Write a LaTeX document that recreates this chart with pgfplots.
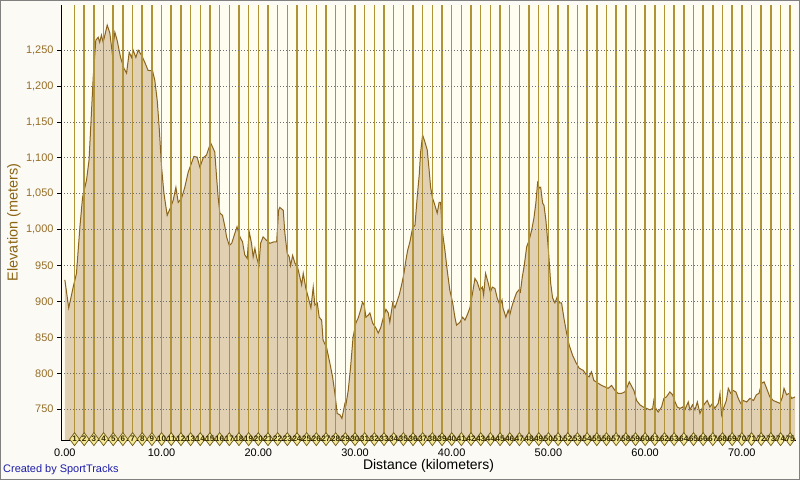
\documentclass[border=0pt]{standalone}
\usepackage{fontspec}
\setmainfont{Liberation Sans}
\usepackage{pgfplots}
\pgfplotsset{compat=1.18}
\usepackage{pgfplotstable}
\definecolor{plotbg}{RGB}{255,252,240}
\definecolor{outerbg}{RGB}{251,250,245}
\definecolor{fillc}{RGB}{225,209,178}
\definecolor{linec}{RGB}{139,101,29}
\definecolor{gold}{RGB}{176,146,56}
\definecolor{gridgray}{RGB}{110,110,110}
\definecolor{ytickc}{RGB}{150,110,40}
\definecolor{ylabc}{RGB}{140,100,20}
\definecolor{credblue}{RGB}{30,30,170}
\definecolor{mkfill}{RGB}{244,232,150}
\definecolor{mkdraw}{RGB}{110,90,20}
\definecolor{mktext}{RGB}{50,40,0}
\pgfplotstableread{
x y
0 930
0.4 891
0.86 920
1.2 939
1.55 1003
1.83 1045
2.24 1069
2.5 1097
2.76 1166
2.93 1212
3.2 1264
3.45 1268
3.6 1261
3.78 1271
3.96 1261
4.38 1285
4.65 1274
4.9 1246
5.17 1275
5.4 1264
5.76 1240
6.1 1225
6.38 1218
6.65 1247
6.9 1240
7.06 1250
7.34 1240
7.58 1250
7.93 1243
8.27 1233
8.6 1222
9.07 1221
9.3 1208
9.55 1180
9.75 1143
10 1087
10.24 1051
10.58 1020
10.93 1031
11.2 1041
11.48 1059
11.72 1038
12.07 1044
12.4 1059
12.75 1080
13.1 1093
13.34 1102
13.68 1101
13.96 1087
14.3 1100
14.65 1104
15.07 1121
15.34 1113
15.5 1108
15.69 1073
15.85 1045
16.03 1023
16.3 1020
16.55 1004
16.72 990
17 978
17.25 981
17.58 995
17.8 1004
18.1 990
18.37 983
18.6 965
18.85 960
19.06 997
19.3 981
19.47 962
19.65 974
19.82 962
20.06 950
20.24 981
20.5 990
20.86 985
21.2 981
21.6 983
21.9 983
22.1 1027
22.23 1031
22.58 1027
22.75 995
22.99 967
23.2 962
23.34 950
23.55 964
23.8 953
24.02 950
24.3 934
24.48 923
24.65 939
24.92 918
25.16 906
25.44 891
25.68 920
25.85 895
26.1 898
26.3 878
26.55 874
26.7 846
27.06 836
27.4 814
27.68 795
27.92 772
28.16 744
28.44 742
28.65 737
28.96 758
29.06 756
29.3 776
29.54 808
29.8 850
30.09 870
30.33 877
30.58 888
30.78 899
30.95 895
31.13 878
31.37 881
31.54 884
31.82 870
32.16 863
32.4 856
32.65 863
32.92 877
33.2 889
33.44 884
33.6 871
33.9 898
34.13 891
34.3 898
34.57 909
34.82 923
35.06 939
35.26 957
35.44 971
35.68 983
35.95 1002
36.2 1006
36.43 1045
36.64 1076
36.78 1107
36.99 1132
37.23 1122
37.47 1111
37.64 1087
37.82 1059
38.02 1044
38.26 1034
38.5 1023
38.7 1038
38.85 1038
39.02 999
39.3 971
39.53 944
39.8 916
40.1 898
40.33 878
40.5 867
40.85 871
41.13 878
41.37 874
41.6 881
41.88 891
42.16 912
42.4 932
42.64 927
42.9 916
43.17 920
43.3 909
43.5 939
43.75 927
44.0 913
44.2 920
44.47 918
44.7 905
44.98 895
45.2 902
45.3 891
45.6 878
45.84 888
46.0 881
46.2 892
46.43 902
46.7 912
46.94 916
47.1 913
47.3 934
47.5 950
47.75 976
48.0 985
48.26 999
48.5 1016
48.7 1037
48.88 1065
49.05 1058
49.2 1059
49.4 1037
49.54 1034
49.74 1013
49.92 985
50.05 962
50.23 926
50.43 905
50.67 898
50.9 906
51.12 898
51.36 898
51.6 877
51.88 856
52.15 839
52.5 825
52.84 815
53.18 807
53.6 804
53.95 797
54.2 795
54.45 802
54.7 790
55.15 786
55.5 783
55.84 781
56.18 779
56.53 783
56.88 776
57.2 772
57.57 772
57.9 774
58.15 781
58.36 788
58.6 782
58.84 776
59.12 762
59.46 756
59.8 753
60.15 751
60.5 749
60.78 751
60.9 762
61.1 751
61.35 746
61.7 753
61.94 765
62.2 767
62.56 774
62.84 770
63.1 760
63.32 753
63.6 751
63.88 753
64.1 749
64.46 760
64.63 749
64.9 756
65.15 749
65.4 760
65.67 744
65.95 753
66.18 758
66.42 762
66.7 753
66.97 758
67.2 751
67.56 758
67.74 772
67.9 742
68.15 753
68.4 762
68.6 779
68.84 772
69.1 776
69.38 774
69.63 765
69.88 758
70.15 762
70.5 760
70.84 765
71.2 762
71.5 770
71.77 772
72.05 786
72.3 788
72.56 779
72.9 767
73.25 762
73.6 760
73.94 758
74.2 767
74.36 779
74.63 770
74.9 772
75.15 765
75.5 767
}\elev
\pgfplotsset{commonbox/.style={
  at={(61bp,40bp)}, anchor=south west,
  scale only axis, width=735bp, height=435bp,
  xmin=-0.4, xmax=75.6, ymin=707, ymax=1313}}
\begin{document}
\begin{tikzpicture}
\useasboundingbox (0,0) rectangle (800bp,480bp);
\fill[outerbg] (0,0) rectangle (800bp,480bp);
\begin{axis}[
  commonbox,
  axis on top,
  axis background/.style={fill=plotbg},
  axis x line*=bottom, axis y line*=left, axis line style={black,-,line width=0.8bp},
  xtick={0,10,...,70}, minor xtick={1,...,75},
  ytick={750,800,...,1250},
  xminorgrids, ymajorgrids,
  minor x grid style={gold, line width=1.5bp},
  major y grid style={gridgray, dash pattern=on 1bp off 2bp, line width=0.8bp},
  tick align=outside, major tick length=4bp, minor tick length=0pt,
  xtick style={draw=none}, ytick style={black, line width=0.8bp},
  scaled ticks=false,
  /pgf/number format/assume math mode=true,
  xticklabel style={font=\fontsize{11}{13}\selectfont, text=black, yshift=-1bp, /pgf/number format/.cd, fixed, fixed zerofill, precision=2},
  yticklabel style={font=\fontsize{11}{13}\selectfont, text=ytickc, /pgf/number format/.cd, 1000 sep={,}},
  xlabel={Distance (kilometers)}, ylabel={Elevation (meters)},
  every axis x label/.style={at={(rel axis cs:0.5,0)}, yshift=-26bp, anchor=center, font=\fontsize{14}{16}\selectfont},
  every axis y label/.style={at={(rel axis cs:0,0.5)}, xshift=-47bp, rotate=90, anchor=center, font=\fontsize{14.5}{16}\selectfont, text=ylabc},
]
\addplot[fill=fillc, draw=none] table {\elev} \closedcycle;
\addplot[linec, line width=1bp] table {\elev};
\end{axis}
\begin{axis}[
  commonbox, hide axis, clip=false,
]
\addplot[only marks, mark=diamond*, mark size=6.5bp,
  mark options={fill=mkfill, draw=mkdraw, line width=0.7bp},
  nodes near coords, point meta=explicit symbolic,
  every node near coord/.append style={anchor=center, inner sep=0pt, font=\fontsize{8}{8}\selectfont\bfseries, text=mktext}]
coordinates {
(1,708.2) [1] (2,708.2) [2] (3,708.2) [3] (4,708.2) [4] (5,708.2) [5] (6,708.2) [6] (7,708.2) [7] (8,708.2) [8] (9,708.2) [9] (10,708.2) [10]
(11,708.2) [11] (12,708.2) [12] (13,708.2) [13] (14,708.2) [14] (15,708.2) [15] (16,708.2) [16] (17,708.2) [17] (18,708.2) [18] (19,708.2) [19] (20,708.2) [20]
(21,708.2) [21] (22,708.2) [22] (23,708.2) [23] (24,708.2) [24] (25,708.2) [25] (26,708.2) [26] (27,708.2) [27] (28,708.2) [28] (29,708.2) [29] (30,708.2) [30]
(31,708.2) [31] (32,708.2) [32] (33,708.2) [33] (34,708.2) [34] (35,708.2) [35] (36,708.2) [36] (37,708.2) [37] (38,708.2) [38] (39,708.2) [39] (40,708.2) [40]
(41,708.2) [41] (42,708.2) [42] (43,708.2) [43] (44,708.2) [44] (45,708.2) [45] (46,708.2) [46] (47,708.2) [47] (48,708.2) [48] (49,708.2) [49] (50,708.2) [50]
(51,708.2) [51] (52,708.2) [52] (53,708.2) [53] (54,708.2) [54] (55,708.2) [55] (56,708.2) [56] (57,708.2) [57] (58,708.2) [58] (59,708.2) [59] (60,708.2) [60]
(61,708.2) [61] (62,708.2) [62] (63,708.2) [63] (64,708.2) [64] (65,708.2) [65] (66,708.2) [66] (67,708.2) [67] (68,708.2) [68] (69,708.2) [69] (70,708.2) [70]
(71,708.2) [71] (72,708.2) [72] (73,708.2) [73] (74,708.2) [74] (75,708.2) [75]
};
\end{axis}
\node[anchor=west, inner sep=0pt, text=credblue, font=\fontsize{11}{13}\selectfont] at (3bp,10bp) {Created by SportTracks};
\draw[gray, line width=1bp] (0.5bp,0.5bp) rectangle (799.5bp,479.5bp);
\end{tikzpicture}
\end{document}
